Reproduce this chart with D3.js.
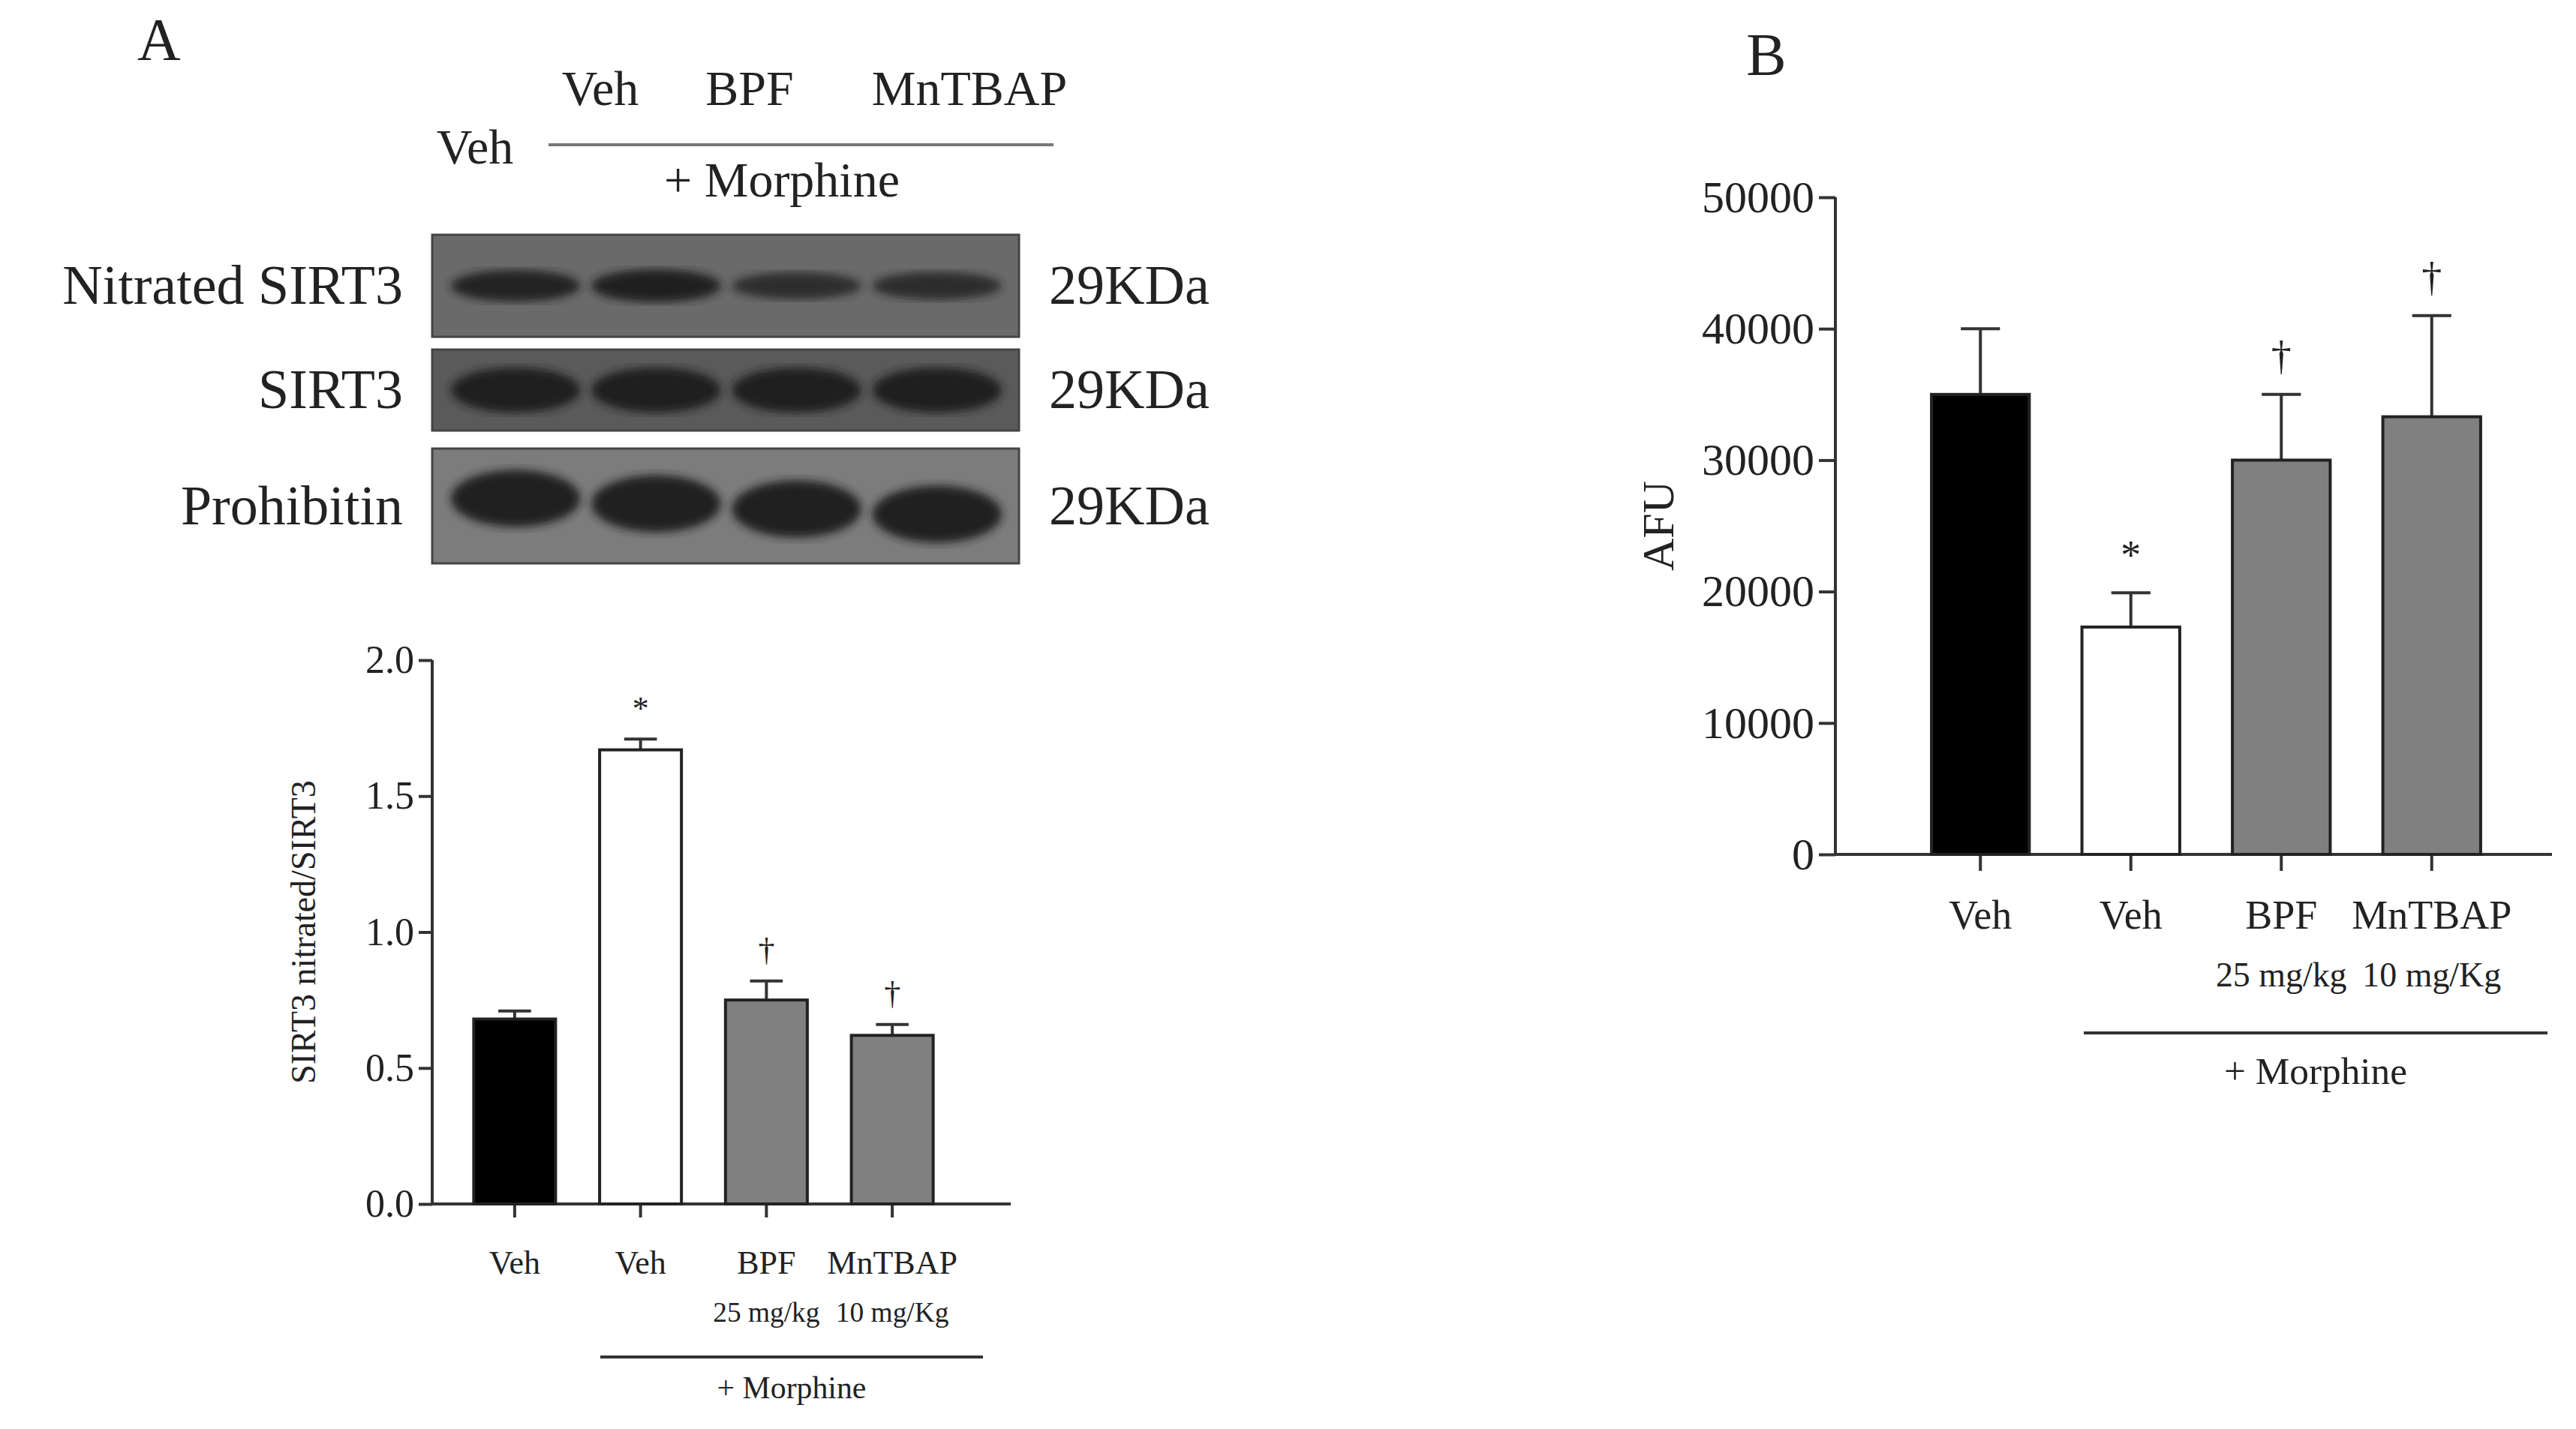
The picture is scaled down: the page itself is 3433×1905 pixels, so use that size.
<!DOCTYPE html>
<html><head><meta charset="utf-8">
<script src="https://cdn.jsdelivr.net/npm/d3@7"></script>
<style>body{margin:0;background:#fff}text{font-family:"Liberation Serif","Times New Roman",serif;fill:#222}</style>
</head><body><svg id="c" width="3433" height="1905"></svg>
<script>
const categories = ["Veh","Veh","BPF","MnTBAP"];
const doses = ["","","25 mg/kg","10 mg/Kg"];
const fills = ["#000000","#ffffff","#808080","#808080"];
const aValues = [0.68,1.67,0.75,0.62];
const aErrors = [0.03,0.04,0.07,0.04];
const aMarks = ["","*","†","†"];
const aTicks = [0,0.5,1.0,1.5,2.0];
const bValues = [35000,17300,30000,33300];
const bErrors = [5000,2600,5000,7700];
const bMarks = ["","*","†","†"];
const bTicks = [0,10000,20000,30000,40000,50000];
const blotRows = ["Nitrated SIRT3","SIRT3","Prohibitin"];
const blotBg = ["#6a6a6a","#5a5a5a","#7c7c7c"];
const blotIntensity = [[0.9,1.0,0.55,0.6],[1,1,1,1],[1,1,1,1]];

const svg = d3.select("#c");
const defs = svg.append("defs");
defs.append("filter").attr("id","bl").append("feGaussianBlur").attr("stdDeviation",6);

svg.append("text").attr("x",212).attr("y",80).attr("font-size",80).attr("text-anchor","middle").text("A");
svg.append("text").attr("x",2354).attr("y",100).attr("font-size",80).attr("text-anchor","middle").text("B");

const hdrX=[800,999,1292];
["Veh","BPF","MnTBAP"].forEach((t,i)=>svg.append("text").attr("x",hdrX[i]).attr("y",140).attr("font-size",66).attr("text-anchor","middle").attr("textLength",null).text(t));
svg.append("text").attr("x",633).attr("y",218).attr("font-size",66).attr("text-anchor","middle").text("Veh");
svg.append("line").attr("x1",731).attr("x2",1404).attr("y1",193).attr("y2",193).attr("stroke","#777").attr("stroke-width",4);
svg.append("text").attr("x",1042).attr("y",262).attr("font-size",66).attr("text-anchor","middle").text("+ Morphine");

const rowY=[[313,449],[466,574],[598,751]];
const laneX = d3.scaleBand().domain(d3.range(4)).range([586,1350]).padding(0.08);
blotRows.forEach((name,r)=>{
  const [y0,y1]=rowY[r];
  svg.append("rect").attr("x",576).attr("y",y0).attr("width",782).attr("height",y1-y0).attr("fill",blotBg[r]).attr("stroke","#444").attr("stroke-width",3);
  const yc=(y0+y1)/2 + (r===2?-10:0);
  blotIntensity[r].forEach((v,i)=>{
    svg.append("ellipse").attr("cx",laneX(i)+laneX.bandwidth()/2).attr("cy",yc+(r===2?i*7:0))
      .attr("rx",laneX.bandwidth()/2).attr("ry",(r===0?22:r===1?30:38)*(0.6+0.4*v))
      .attr("fill","#1e1e1e").attr("opacity",0.55+0.4*v).attr("filter","url(#bl)");
  });
  svg.append("text").attr("x",537).attr("y",(y0+y1)/2+24).attr("font-size",74).attr("text-anchor","end").text(name);
  svg.append("text").attr("x",1398).attr("y",(y0+y1)/2+24).attr("font-size",74).text("29KDa");
});

function barChart(o){
  const g=svg.append("g");
  const y=d3.scaleLinear().domain([o.ticks[0],o.ticks[o.ticks.length-1]]).range([o.y0,o.y1]);
  const x=d3.scaleBand().domain(d3.range(4)).range(o.br).paddingInner(o.pad).paddingOuter(o.pad/2);
  const ya=g.append("g").attr("transform",`translate(${o.x0},0)`).call(d3.axisLeft(y).tickValues(o.ticks).tickFormat(o.fmt).tickSize(o.ts).tickPadding(6));
  const xa=g.append("g").attr("transform",`translate(0,${o.y0})`).call(d3.axisBottom(x).tickFormat(()=>"").tickSize(o.ts));
  [ya,xa].forEach(a=>{a.selectAll("path,line").attr("stroke","#333").attr("stroke-width",4);a.select(".domain").attr("d",null);});
  g.append("line").attr("x1",o.x0).attr("x2",o.x0).attr("y1",o.y0).attr("y2",o.y1).attr("stroke","#333").attr("stroke-width",4);
  g.append("line").attr("x1",o.x0).attr("x2",o.x1).attr("y1",o.y0).attr("y2",o.y0).attr("stroke","#333").attr("stroke-width",4);
  ya.selectAll("text").attr("font-size",o.yts).attr("fill","#222").style("font-family","Liberation Serif");
  o.vals.forEach((v,i)=>{
    const cx=x(i)+x.bandwidth()/2;
    g.append("line").attr("x1",cx).attr("x2",cx).attr("y1",y(v)).attr("y2",y(v+o.err[i])).attr("stroke","#333").attr("stroke-width",4);
    g.append("line").attr("x1",cx-x.bandwidth()*0.2).attr("x2",cx+x.bandwidth()*0.2).attr("y1",y(v+o.err[i])).attr("y2",y(v+o.err[i])).attr("stroke","#333").attr("stroke-width",4);
    g.append("rect").attr("x",x(i)).attr("y",y(v)).attr("width",x.bandwidth()).attr("height",y(0)-y(v)).attr("fill",fills[i]).attr("stroke","#222").attr("stroke-width",4);
    if(o.marks[i]) g.append("text").attr("x",cx).attr("y",y(v+o.err[i])-o.tfs*0.6).attr("text-anchor","middle").attr("font-size",o.tfs).text(o.marks[i]);
    g.append("text").attr("x",cx).attr("y",o.lab1).attr("text-anchor","middle").attr("font-size",o.tfs).text(categories[i]);
    if(doses[i]) g.append("text").attr("x",cx).attr("y",o.lab2).attr("text-anchor","middle").attr("font-size",o.tfs*0.85).text(doses[i]);
  });
  g.append("line").attr("x1",o.mx0).attr("x2",o.mx1).attr("y1",o.my).attr("y2",o.my).attr("stroke","#333").attr("stroke-width",4);
  g.append("text").attr("x",(o.mx0+o.mx1)/2).attr("y",o.my+o.tfs*1.25).attr("text-anchor","middle").attr("font-size",o.tfs*0.95).text("+ Morphine");
  g.append("text").attr("transform",`translate(${o.ylx},${(o.y0+o.y1)/2}) rotate(-90)`).attr("text-anchor","middle").attr("font-size",o.yfs).text(o.ylabel);
}
barChart({x0:576,x1:1347,br:[602,1273],y0:1605,y1:880,ticks:aTicks,fmt:d3.format(".1f"),vals:aValues,err:aErrors,marks:aMarks,pad:0.35,ts:18,tfs:44,yts:52,
  lab1:1698,lab2:1762,mx0:800,mx1:1310,my:1809,ylx:420,yfs:46,ylabel:"SIRT3 nitrated/SIRT3"});
barChart({x0:2446,x1:3401,br:[2539,3341],y0:1139,y1:263,ticks:bTicks,fmt:d3.format("d"),vals:bValues,err:bErrors,marks:bMarks,pad:0.35,ts:22,tfs:54,yts:60,
  lab1:1238,lab2:1315,mx0:2777,mx1:3395,my:1377,ylx:2230,yfs:60,ylabel:"AFU"});
</script></body></html>
